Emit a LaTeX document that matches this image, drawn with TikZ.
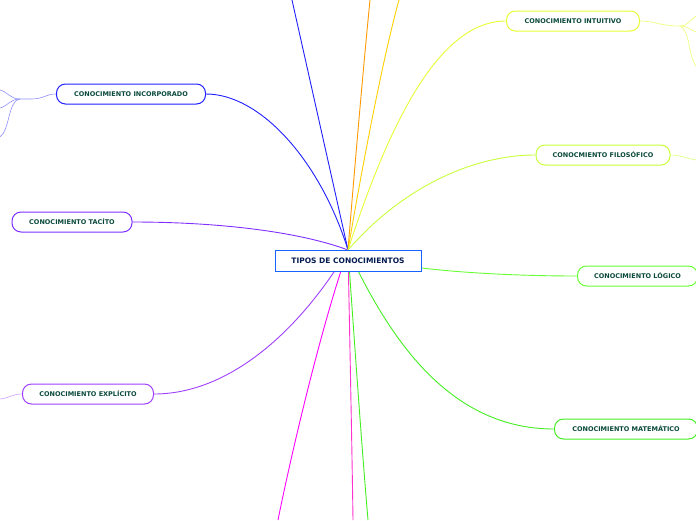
\documentclass[tikz,border=0pt]{standalone}
\usepackage{fontspec}
\setmainfont{DejaVu Sans}
\begin{document}
\begin{tikzpicture}[x=1pt,y=-1pt,
 topic/.style={draw=#1,line width=1pt,rounded corners=9pt,fill=white,minimum height=20pt,inner xsep=10pt,font=\bfseries\fontsize{6.5}{8}\selectfont,text=txt},
 br/.style={draw=#1,line width=0.9pt}]
\definecolor{txt}{HTML}{0B4A3A}
\definecolor{cblue}{HTML}{2020FF}\definecolor{cpurp}{HTML}{7F2FFF}\definecolor{cviol}{HTML}{A040FF}
\definecolor{cyel}{HTML}{E6FF33}\definecolor{cfil}{HTML}{C8FF3A}\definecolor{clog}{HTML}{66FF33}
\definecolor{cmat}{HTML}{44EE22}\definecolor{corg}{HTML}{FF9900}\definecolor{cgold}{HTML}{FFD000}
\definecolor{cmag}{HTML}{FF00FF}\definecolor{cmag2}{HTML}{FF30D0}
\useasboundingbox (0,0) rectangle (696,520);
\coordinate (c) at (348,250);
\coordinate (t1) at (292,0);\coordinate (t2) at (370,0);\coordinate (t3) at (399,0);
\coordinate (b1) at (278,520);\coordinate (b2) at (353,520);\coordinate (b3) at (368,520);
\node[topic=cblue,minimum width=149pt] (inc) at (131,94) {CONOCIMIENTO INCORPORADO};
\node[topic=cpurp,minimum width=120pt] (tac) at (72,222) {CONOCIMIENTO TACÍTO};
\node[topic=cviol,minimum width=131pt] (exp) at (88,394) {CONOCIMIENTO EXPLÍCITO};
\node[topic=cyel,minimum width=133pt] (int) at (573,21) {CONOCIMIENTO INTUITIVO};
\node[topic=cfil,minimum width=134pt] (fil) at (603,155) {CONOCMIENTO FILOSÓFICO};
\node[topic=clog,minimum width=120pt,anchor=west] (log) at (577,276) {CONOCIMIENTO LÓGICO};
\node[topic=cmat,minimum width=143pt,anchor=west] (mat) at (554,429) {CONOCIMIENTO MATEMÁTICO};
\begin{scope}[on background layer/.style={}]
\draw[br=cblue] (c) .. controls (320,160) and (260,94) .. (inc.east);
\draw[br=cblue] (c) -- (t1);
\draw[br=cpurp] (c) .. controls (300,232) and (220,222) .. (tac.east);
\draw[br=cviol] (c) .. controls (300,330) and (230,394) .. (exp.east);
\draw[br=corg] (c) .. controls (356,150) and (365,50) .. (t2);
\draw[br=cgold] (c) .. controls (365,150) and (385,50) .. (t3);
\draw[br=cyel] (c) .. controls (390,120) and (440,21) .. (int.west);
\draw[br=cfil] (c) .. controls (400,190) and (470,155) .. (fil.west);
\draw[br=clog] (c) .. controls (380,270) and (500,276) .. (log.west);
\draw[br=cmat] (c) .. controls (390,340) and (450,429) .. (mat.west);
\draw[br=cmag] (c) .. controls (320,330) and (290,460) .. (b1);
\draw[br=cmag2] (c) .. controls (350,350) and (352,450) .. (b2);
\draw[br=cmat] (c) .. controls (355,350) and (362,450) .. (b3);
\end{scope}
\node[draw=cblue!70!cyan,line width=0.8pt,fill=white,minimum width=146pt,minimum height=21pt,font=\bfseries\fontsize{7.5}{9}\selectfont,text=txt!60!blue!60!black] (root) at (348,261) {TIPOS DE CONOCIMIENTOS};
% sub-branches
\draw[cblue!50,line width=0.6pt] (inc.west) .. controls (45,94) and (45,99) .. (30,99) -- (20,99)
  .. controls (10,99) and (8,92) .. (0,90);
\draw[cblue!50,line width=0.6pt] (20,99) .. controls (10,99) and (8,106) .. (0,108);
\draw[cblue!50,line width=0.6pt] (20,99) .. controls (8,100) and (10,130) .. (0,137);
\draw[cviol!50,line width=0.6pt] (exp.west) .. controls (12,394) and (10,398) .. (0,399);
\draw[cyel!70,line width=0.6pt] (int.east) .. controls (655,21) and (660,26) .. (680,26)
  .. controls (688,26) and (690,20) .. (696,16);
\draw[cyel!70,line width=0.6pt] (680,26) .. controls (688,26) and (690,30) .. (696,32);
\draw[cyel!70,line width=0.6pt] (680,26) .. controls (690,30) and (688,55) .. (696,66);
\draw[cfil!70,line width=0.6pt] (fil.east) .. controls (680,155) and (685,158) .. (696,160);
\end{tikzpicture}
\end{document}
